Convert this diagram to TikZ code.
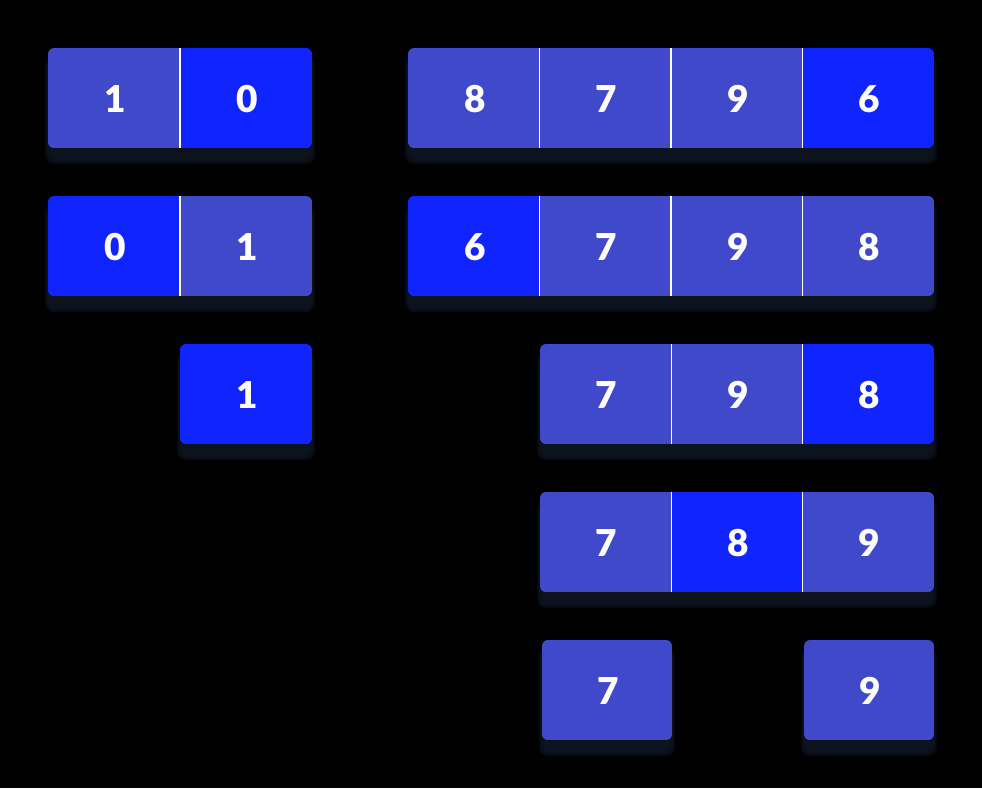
\documentclass[tikz,border=0pt]{standalone}
\usepackage{fontspec}
\setmainfont{Lato}[BoldFont={Lato Black}]
\definecolor{slate}{HTML}{4149CB}
\definecolor{bright}{HTML}{1024FF}
\definecolor{schatten}{HTML}{0E1520}
\tikzset{
  zahl/.style={text=white,inner sep=0pt,font=\bfseries\fontsize{37}{37}\selectfont},
  trenner/.style={white,line width=1.6pt},
}
% Reihe: #1 Name, #2 x, #3 y, #4 Zellbreite, #5 Anzahl, #6 Farbe/Ziffer
\newcommand{\reihe}[6]{%
  \foreach \s in {0,...,4} {
    \fill[schatten,opacity=0.4,rounded corners=8]
      (#2-3+\s,#3+8+\s) rectangle (#2+#4*#5+3-\s,#3+100+16-\s);
  }
  \begin{scope}
    \clip[rounded corners=6] (#2,#3) rectangle ++(#4*#5,100);
    \foreach [count=\i from 0] \c/\d in {#6} {
      \fill[\c] (#2+#4*\i,#3) rectangle ++(#4,100);
    }
  \end{scope}
  \foreach [count=\i from 0] \c/\d in {#6} {
    \node[zahl] (#1-\i) at (#2+#4*\i+#4/2+1,#3+51) {\d};
    \ifnum\i>0
      \draw[trenner] (#2+#4*\i,#3) -- ++(0,100);
    \fi
  }
}
\begin{document}
\begin{tikzpicture}[x=1pt,y=-1pt]
  \fill[black] (0,0) rectangle (982,788);
  %%%% linke Seite
  \reihe{la}{48}{48}{132}{2}{slate/1,bright/0}
  \reihe{lb}{48}{196}{132}{2}{bright/0,slate/1}
  \reihe{lc}{180}{344}{132}{1}{bright/1}
  %%%% rechte Seite
  \reihe{ra}{408}{48}{131.5}{4}{slate/8,slate/7,slate/9,bright/6}
  \reihe{rb}{408}{196}{131.5}{4}{bright/6,slate/7,slate/9,slate/8}
  \reihe{rc}{540}{344}{131.33}{3}{slate/7,slate/9,bright/8}
  \reihe{rd}{540}{492}{131.33}{3}{slate/7,bright/8,slate/9}
  % einzelne Felder
  \reihe{re}{542}{640}{130}{1}{slate/7}
  \reihe{rf}{804}{640}{130}{1}{slate/9}
\end{tikzpicture}
\end{document}
